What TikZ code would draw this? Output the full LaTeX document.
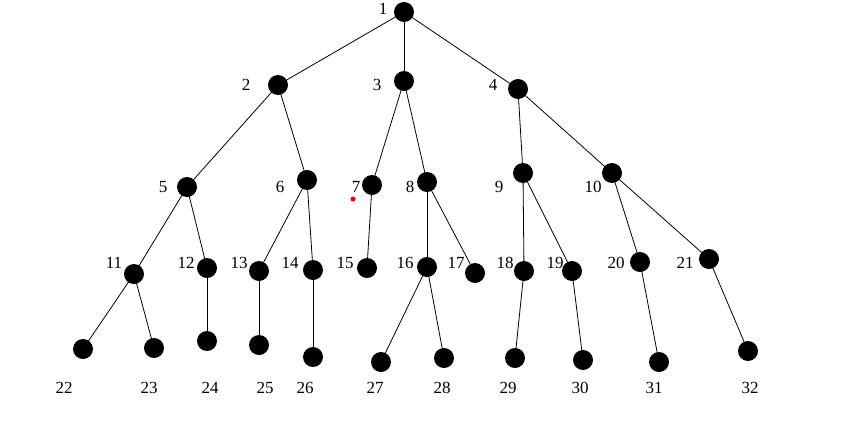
\documentclass[tikz,border=0pt]{standalone}
\usepackage{fontspec}
\setmainfont{Liberation Serif}
\begin{document}
\begin{tikzpicture}[x=1pt,y=-1pt,
  dot/.style={circle,fill=black,inner sep=0pt,minimum size=20pt},
  lab/.style={font=\fontsize{17}{20}\selectfont,inner sep=0pt}]
\useasboundingbox (0,0) rectangle (847,421);
\foreach \n/\x/\y/\lx/\ly in {1/404/12/383/9,2/278/85/246/85,3/404/81/377/85,4/518/89/493/85,
5/187/187/163/187,6/307/180/280/187,7/372/185/356/187,8/427/182/410/187,9/523/173/499/187,10/612/173/593/187,
11/134/274/114/263,12/207/268/186/263,13/259/271/239/263,14/313/270/290/263,15/367/268/345/263,16/427/267/405/263,
17/475/273/456/263,18/524/271/505/263,19/572/271/555/263,20/640/262/616/263,21/709/259/685/263,
22/83/349/64/388,23/154/348/149/388,24/207/341/210/388,25/259/345/265/388,26/313/357/305/388,27/381/362/375/388,
28/444/358/442/388,29/515/358/508/388,30/583/360/580/388,31/659/362/654/388,32/748/351/750/388}{
  \node[dot] (n\n) at (\x,\y) {};
  \node[lab] (l\n) at (\lx,\ly) {\n};
}
\foreach \a/\b in {1/2,1/3,1/4,2/5,2/6,3/7,3/8,4/9,4/10,5/11,5/12,6/13,6/14,7/15,8/16,8/17,9/18,9/19,10/20,10/21,
11/22,11/23,12/24,13/25,14/26,16/27,16/28,18/29,19/30,20/31,21/32}{
  \draw[line width=0.8pt] (n\a.center) -- (n\b.center);
}
\fill[red] (353,199) circle (2.5);
\end{tikzpicture}
\end{document}
